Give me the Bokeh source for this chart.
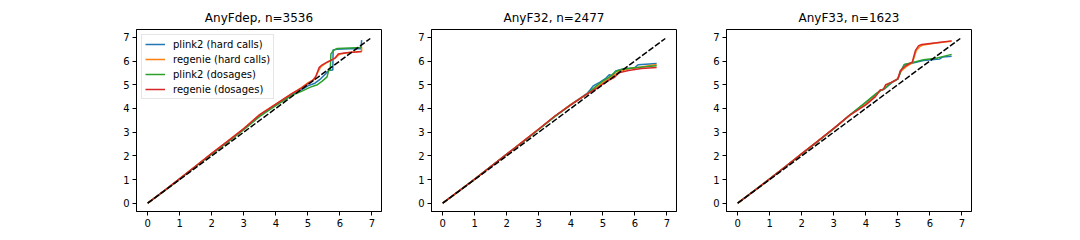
from bokeh.plotting import figure
from bokeh.layouts import row
from bokeh.models import Range1d, FixedTicker, Legend, LegendItem
from bokeh.embed import file_html
from bokeh.resources import INLINE

# ---- data ----
titles = ["AnyFdep, n=3536", "AnyF32, n=2477", "AnyF33, n=1623"]
series_names = ["plink2 (hard calls)", "regenie (hard calls)", "plink2 (dosages)", "regenie (dosages)"]
colors = ["#1f77b4", "#ff7f0e", "#2ca02c", "#d62728"]
tick_values = [0, 1, 2, 3, 4, 5, 6, 7]
diag_x = [0, 6.95]
diag_y = [0, 6.95]

# Panel 1: AnyFdep
p1_blue_x = [0, 0.5, 1, 1.5, 2, 2.5, 3, 3.5, 4, 4.5, 4.8, 5.0, 5.2, 5.4, 5.55, 5.65, 5.78, 5.79, 5.9, 6.3, 6.66, 6.67, 6.68]
p1_blue_y = [0, 0.51, 1.03, 1.56, 2.09, 2.6, 3.12, 3.7, 4.15, 4.58, 4.78, 4.95, 5.05, 5.25, 5.45, 5.6, 5.62, 6.47, 6.5, 6.52, 6.52, 6.7, 6.88]
p1_orange_x = [0, 0.5, 1, 1.5, 2, 2.5, 3, 3.5, 4, 4.5, 4.8, 5.0, 5.2, 5.3, 5.4, 5.55, 5.7, 5.85, 6.0, 6.3, 6.66, 6.68, 6.68]
p1_orange_y = [0, 0.51, 1.04, 1.57, 2.1, 2.62, 3.15, 3.74, 4.18, 4.62, 4.88, 5.08, 5.22, 5.5, 5.75, 5.9, 6.02, 6.12, 6.3, 6.36, 6.4, 6.42, 6.6]
p1_green_x = [0, 0.5, 1, 1.5, 2, 2.5, 3, 3.5, 4, 4.5, 4.8, 5.08, 5.3, 5.45, 5.6, 5.65, 5.7, 5.72, 5.8, 5.92, 6.3, 6.68]
p1_green_y = [0, 0.5, 1.02, 1.55, 2.07, 2.58, 3.1, 3.66, 4.12, 4.55, 4.72, 4.9, 5.0, 5.15, 5.33, 5.6, 5.62, 6.3, 6.45, 6.53, 6.55, 6.57]
p1_red_x = [0, 0.5, 1, 1.5, 2, 2.5, 3, 3.5, 4, 4.5, 4.8, 5.0, 5.15, 5.25, 5.35, 5.45, 5.6, 5.75, 5.85, 5.95, 6.2, 6.5, 6.68]
p1_red_y = [0, 0.51, 1.04, 1.57, 2.1, 2.62, 3.15, 3.74, 4.18, 4.62, 4.86, 5.05, 5.18, 5.35, 5.72, 5.84, 5.95, 6.05, 6.12, 6.3, 6.35, 6.38, 6.4]

# Panel 2: AnyF32
p2_blue_x = [0, 0.5, 1, 1.5, 2, 2.5, 3, 3.5, 4, 4.5, 4.6, 4.7, 4.9, 5.1, 5.2, 5.3, 5.4, 5.6, 6.0, 6.1, 6.68]
p2_blue_y = [0, 0.51, 1.02, 1.54, 2.07, 2.59, 3.12, 3.66, 4.16, 4.62, 4.78, 4.95, 5.1, 5.28, 5.42, 5.38, 5.58, 5.65, 5.72, 5.84, 5.9]
p2_orange_x = [0, 0.5, 1, 1.5, 2, 2.5, 3, 3.5, 4, 4.5, 4.8, 5.0, 5.3, 5.5, 5.8, 6.2, 6.68]
p2_orange_y = [0, 0.51, 1.02, 1.54, 2.07, 2.6, 3.13, 3.67, 4.17, 4.6, 4.88, 5.08, 5.35, 5.55, 5.67, 5.75, 5.85]
p2_green_x = [0, 0.5, 1, 1.5, 2, 2.5, 3, 3.5, 4, 4.5, 4.6, 4.8, 5.0, 5.2, 5.4, 5.6, 6.0, 6.68]
p2_green_y = [0, 0.5, 1.02, 1.54, 2.06, 2.58, 3.11, 3.65, 4.15, 4.6, 4.72, 4.95, 5.15, 5.32, 5.56, 5.65, 5.72, 5.8]
p2_red_x = [0, 0.5, 1, 1.5, 2, 2.5, 3, 3.5, 4, 4.5, 4.8, 5.0, 5.2, 5.35, 5.5, 5.8, 6.2, 6.68]
p2_red_y = [0, 0.51, 1.02, 1.54, 2.07, 2.6, 3.13, 3.68, 4.15, 4.6, 4.84, 5.03, 5.2, 5.3, 5.5, 5.6, 5.68, 5.73]

# Panel 3: AnyF33
p3_blue_x = [0, 0.5, 1, 1.5, 2, 2.5, 3, 3.5, 4, 4.3, 4.45, 4.6, 4.8, 5.0, 5.1, 5.2, 5.5, 5.8, 6.3, 6.4, 6.68]
p3_blue_y = [0, 0.51, 1.03, 1.55, 2.08, 2.61, 3.15, 3.72, 4.25, 4.58, 4.74, 4.84, 5.08, 5.24, 5.58, 5.84, 5.93, 6.02, 6.08, 6.17, 6.2]
p3_orange_x = [0, 0.5, 1, 1.5, 2, 2.5, 3, 3.5, 4, 4.3, 4.45, 4.55, 4.62, 4.8, 5.0, 5.08, 5.25, 5.45, 5.52, 5.58, 5.7, 5.8, 6.2, 6.68]
p3_orange_y = [0, 0.51, 1.03, 1.56, 2.09, 2.62, 3.16, 3.72, 4.18, 4.52, 4.76, 4.8, 4.98, 5.1, 5.25, 5.55, 5.75, 5.92, 6.2, 6.45, 6.62, 6.68, 6.76, 6.83]
p3_green_x = [0, 0.5, 1, 1.5, 2, 2.5, 3, 3.5, 4, 4.3, 4.45, 4.6, 4.8, 5.0, 5.1, 5.2, 5.5, 5.8, 6.2, 6.68]
p3_green_y = [0, 0.51, 1.03, 1.55, 2.08, 2.61, 3.15, 3.72, 4.27, 4.6, 4.75, 4.85, 5.1, 5.25, 5.6, 5.85, 5.95, 6.05, 6.12, 6.28]
p3_red_x = [0, 0.5, 1, 1.5, 2, 2.5, 3, 3.5, 4, 4.3, 4.45, 4.55, 4.62, 4.8, 5.0, 5.08, 5.25, 5.45, 5.5, 5.55, 5.65, 5.75, 6.2, 6.68]
p3_red_y = [0, 0.51, 1.03, 1.56, 2.09, 2.62, 3.16, 3.72, 4.15, 4.5, 4.78, 4.8, 5.0, 5.1, 5.25, 5.6, 5.8, 5.95, 6.2, 6.45, 6.65, 6.7, 6.77, 6.85]

panels = [
    [(p1_blue_x, p1_blue_y), (p1_orange_x, p1_orange_y), (p1_green_x, p1_green_y), (p1_red_x, p1_red_y)],
    [(p2_blue_x, p2_blue_y), (p2_orange_x, p2_orange_y), (p2_green_x, p2_green_y), (p2_red_x, p2_red_y)],
    [(p3_blue_x, p3_blue_y), (p3_orange_x, p3_orange_y), (p3_green_x, p3_green_y), (p3_red_x, p3_red_y)],
]

FONT = "DejaVu Sans"
widths = [405, 295, 380]
borders_left = [136, 26, 26]
frame_w = 245

figs = []
for i, (title, series) in enumerate(zip(titles, panels)):
    p = figure(width=widths[i], height=240, output_backend="svg", toolbar_location=None,
               x_range=Range1d(-0.35, 7.3), y_range=Range1d(-0.35, 7.33),
               min_border_left=borders_left[i], min_border_right=widths[i] - borders_left[i] - frame_w,
               min_border_top=29, min_border_bottom=29)
    p.title.text = title
    p.title.align = "center"
    p.title.text_font = FONT
    p.title.text_font_size = "12px"
    p.title.text_font_style = "normal"
    p.title.text_color = "black"
    p.title.offset = 0
    p.grid.visible = False
    p.outline_line_color = "black"
    p.outline_line_width = 1
    p.background_fill_color = "white"
    p.border_fill_color = "white"
    for ax in (p.xaxis[0], p.yaxis[0]):
        ax.ticker = FixedTicker(ticks=tick_values)
        ax.minor_tick_line_color = None
        ax.major_tick_in = 0
        ax.major_tick_out = 4
        ax.major_tick_line_color = "black"
        ax.axis_line_color = "black"
        ax.major_label_text_font = FONT
        ax.major_label_text_font_size = "10px"
        ax.major_label_text_color = "black"
        ax.major_label_standoff = 3
    renderers = []
    for (xs, ys), c in zip(series, colors):
        r = p.line(xs, ys, line_color=c, line_width=1.5)
        renderers.append(r)
    p.line(diag_x, diag_y, line_color="black", line_width=1.5, line_dash="6 2")
    if i == 0:
        legend = Legend(items=[LegendItem(label=n, renderers=[r]) for n, r in zip(series_names, renderers)],
                        location="top_left")
        legend.margin = 5
        legend.padding = 3
        legend.spacing = 3
        legend.label_height = 12
        legend.glyph_height = 12
        legend.glyph_width = 20
        legend.label_standoff = 8
        legend.label_text_font = FONT
        legend.label_text_font_size = "10px"
        legend.label_text_color = "black"
        legend.border_line_color = "#cccccc"
        legend.border_line_width = 1
        legend.background_fill_alpha = 0.8
        p.add_layout(legend)
    figs.append(p)

layout = row(*figs)
open("out.html", "w").write(file_html(layout, INLINE))
